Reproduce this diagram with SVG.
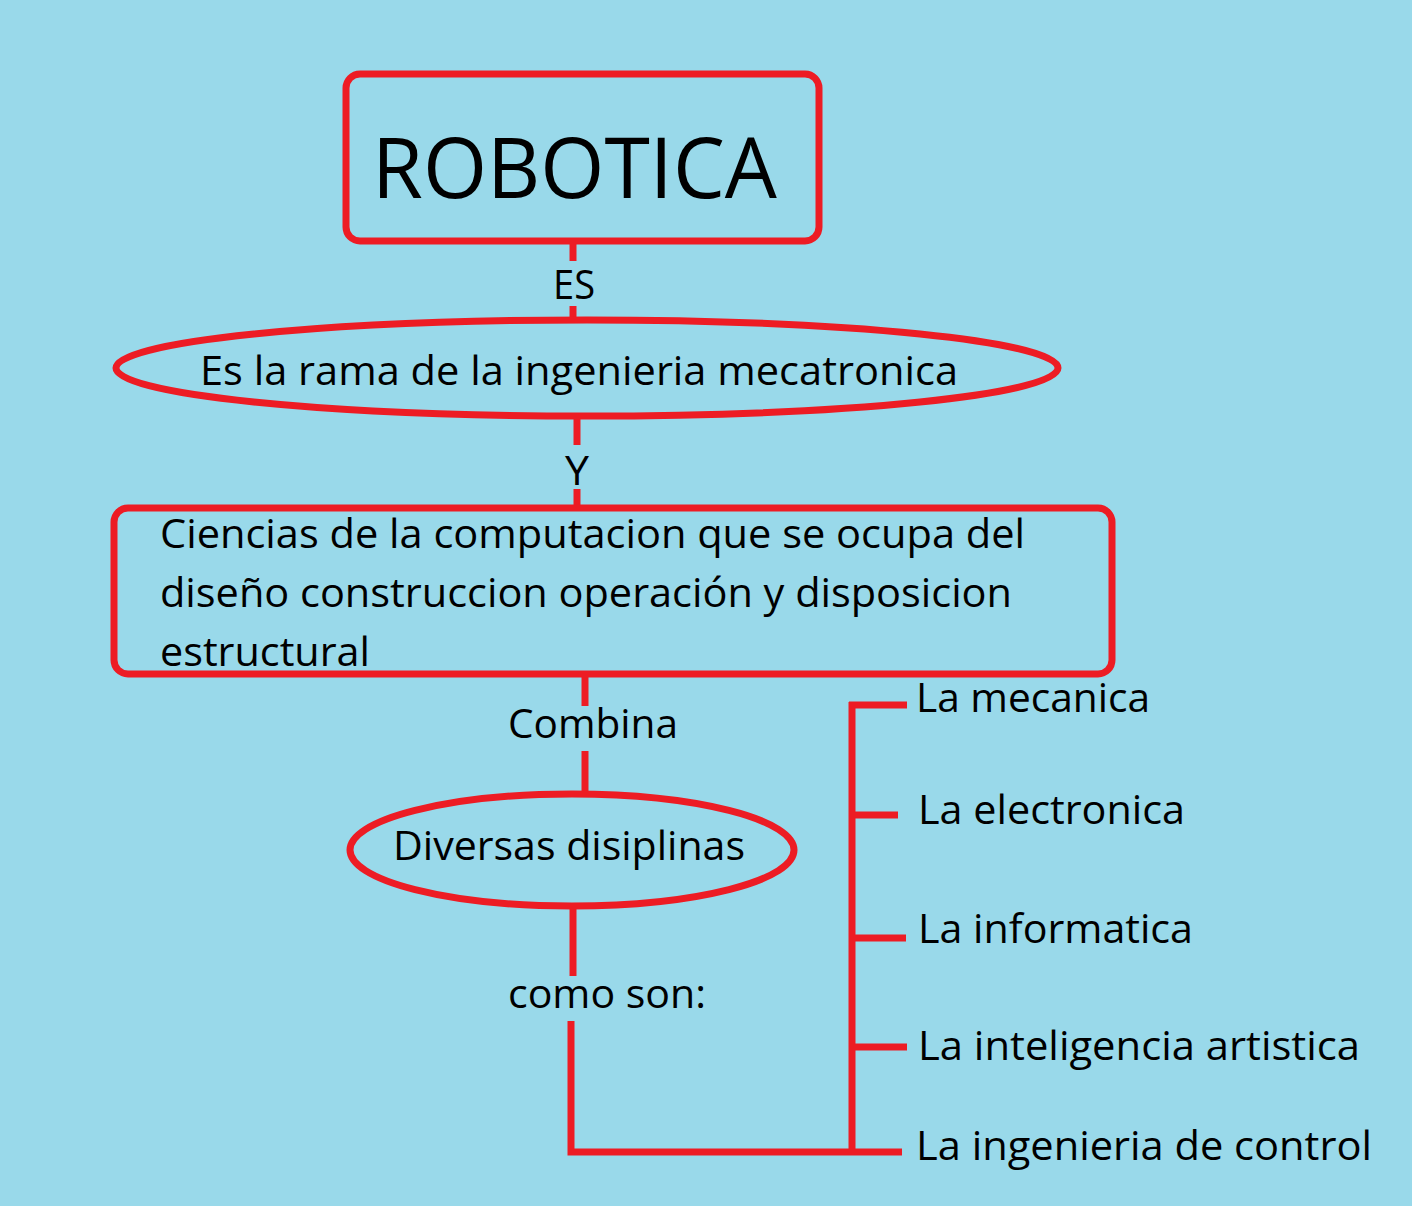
<svg xmlns="http://www.w3.org/2000/svg" width="1412" height="1206" viewBox="0 0 1412 1206">
<style>
.shape{fill:none;stroke:#ed1c24;stroke-width:7}
.con{fill:none;stroke:#ed1c24;stroke-width:7;stroke-linecap:butt}
text{font-family:"Open Sans","Noto Sans","DejaVu Sans",sans-serif;fill:#000}
.t{font-size:41px}
</style>
<rect x="0" y="0" width="1412" height="1206" fill="#99d9ea"/>
<g id="connectors">
<line class="con" x1="573" y1="242" x2="573" y2="261"/>
<line class="con" x1="573" y1="306" x2="573" y2="321"/>
<line class="con" x1="577" y1="417" x2="577" y2="445"/>
<line class="con" x1="577" y1="489" x2="577" y2="508"/>
<line class="con" x1="585" y1="675" x2="585" y2="706"/>
<line class="con" x1="585" y1="751" x2="585" y2="795"/>
<line class="con" x1="573" y1="907" x2="573" y2="976"/>
<polyline class="con" points="571,1021 571,1152 902,1152"/>
<line class="con" x1="852" y1="702" x2="852" y2="1152"/>
<line class="con" x1="849" y1="705" x2="907" y2="705"/>
<line class="con" x1="852" y1="815" x2="898" y2="815"/>
<line class="con" x1="852" y1="938" x2="906" y2="938"/>
<line class="con" x1="852" y1="1047" x2="907" y2="1047"/>
<text class="t" x="553" y="299" textLength="42" lengthAdjust="spacingAndGlyphs">ES</text>
<text class="t" x="565" y="485" textLength="24" lengthAdjust="spacingAndGlyphs">Y</text>
<text class="t" x="508" y="738" textLength="170" lengthAdjust="spacingAndGlyphs">Combina</text>
<text class="t" x="508" y="1008" textLength="198" lengthAdjust="spacingAndGlyphs">como son:</text>
</g>
<g id="node-robotica">
<rect class="shape" x="346" y="74" width="473" height="167" rx="14"/>
<text x="372" y="198" font-size="85" textLength="405" lengthAdjust="spacingAndGlyphs">ROBOTICA</text>
</g>
<g id="node-rama">
<ellipse class="shape" cx="587" cy="368" rx="471" ry="48"/>
<text class="t" x="200" y="385" textLength="758" lengthAdjust="spacingAndGlyphs">Es la rama de la ingenieria mecatronica</text>
</g>
<g id="node-ciencias">
<rect class="shape" x="114" y="508" width="998" height="166" rx="14"/>
<text class="t" x="160" y="548" textLength="865" lengthAdjust="spacingAndGlyphs">Ciencias de la computacion que se ocupa del</text>
<text class="t" x="160" y="607" textLength="852" lengthAdjust="spacingAndGlyphs">diseño construccion operación y disposicion</text>
<text class="t" x="160" y="666" textLength="210" lengthAdjust="spacingAndGlyphs">estructural</text>
</g>
<g id="node-diversas">
<ellipse class="shape" cx="572" cy="850" rx="222" ry="56"/>
<text class="t" x="393" y="860" textLength="352" lengthAdjust="spacingAndGlyphs">Diversas disiplinas</text>
</g>
<g id="node-mecanica">
<text class="t" x="916" y="712" textLength="234" lengthAdjust="spacingAndGlyphs">La mecanica</text>
</g>
<g id="node-electronica">
<text class="t" x="918" y="824" textLength="267" lengthAdjust="spacingAndGlyphs">La electronica</text>
</g>
<g id="node-informatica">
<text class="t" x="918" y="943" textLength="275" lengthAdjust="spacingAndGlyphs">La informatica</text>
</g>
<g id="node-inteligencia">
<text class="t" x="918" y="1060" textLength="442" lengthAdjust="spacingAndGlyphs">La inteligencia artistica</text>
</g>
<g id="node-control">
<text class="t" x="916" y="1160" textLength="456" lengthAdjust="spacingAndGlyphs">La ingenieria de control</text>
</g>
</svg>
